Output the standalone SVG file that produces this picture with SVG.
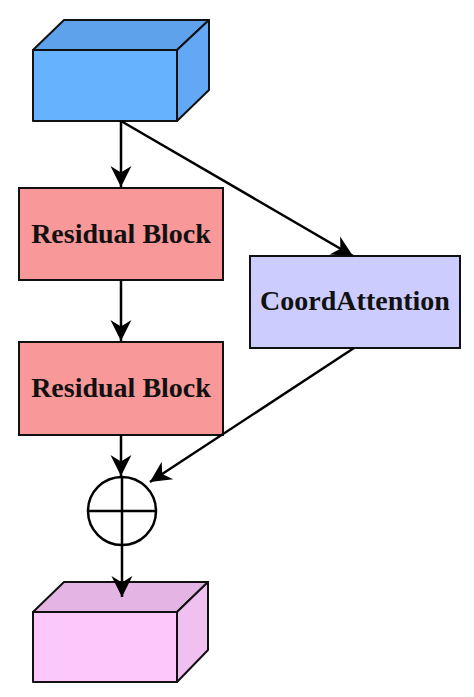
<svg xmlns="http://www.w3.org/2000/svg" width="474" height="697" viewBox="0 0 474 697">
<defs>
<marker id="ah" markerWidth="10" markerHeight="10" viewBox="0 0 10 10" refX="10" refY="5" orient="auto" markerUnits="userSpaceOnUse" style="overflow:visible">
<path d="M0,0 L10,5 L0,10 L3,5 Z" fill="#000" transform="scale(2.1) translate(-5.2,-2.6)"/>
</marker>
<style>
.edge{stroke:#000;stroke-width:2.5;fill:none}
.cube{stroke:#111;stroke-width:2;stroke-linejoin:round}
.box{stroke:#111;stroke-width:2}
.lbl{font-family:"Liberation Serif","Times New Roman",serif;font-weight:bold;font-size:28px;fill:#111;text-anchor:middle}
</style>
</defs>
<rect width="474" height="697" fill="#fff"/>
<g id="input-cube">
<polygon class="cube" points="33,50 64,20 209,20 177,50" fill="#5ea2ec"/>
<polygon class="cube" points="177,50 209,20 209,90 177,121" fill="#62a8f4"/>
<rect class="cube" x="33" y="50" width="144" height="71" fill="#66b2ff"/>
</g>
<g id="residual-block-1">
<rect class="box" x="19" y="188" width="204" height="92" fill="#f89898"/>
<text class="lbl" x="121" y="243">Residual Block</text>
</g>
<g id="residual-block-2">
<rect class="box" x="19" y="342" width="204" height="93" fill="#f89898"/>
<text class="lbl" x="121" y="397">Residual Block</text>
</g>
<g id="coord-attention">
<rect class="box" x="250" y="256" width="210" height="92" fill="#ccccff"/>
<text class="lbl" x="355" y="310">CoordAttention</text>
</g>
<g id="add">
<circle cx="122" cy="511" r="34" fill="#fff" stroke="#000" stroke-width="2.5"/>
<line x1="88" y1="511" x2="156" y2="511" stroke="#000" stroke-width="2.5"/>
<line x1="122" y1="477" x2="122" y2="545" stroke="#000" stroke-width="2.5"/>
</g>
<g id="output-cube">
<polygon class="cube" points="33,612 64,582 208,582 177,612" fill="#e4b4e4"/>
<polygon class="cube" points="177,612 208,582 208,650 177,682" fill="#f0c0f0"/>
<rect class="cube" x="33" y="612" width="144" height="70" fill="#fcc8fc"/>
</g>
<g id="connectors">
<line class="edge" x1="121" y1="121" x2="121" y2="187" marker-end="url(#ah)"/>
<line class="edge" x1="121" y1="121" x2="353" y2="256" marker-end="url(#ah)"/>
<line class="edge" x1="121" y1="280" x2="121" y2="341" marker-end="url(#ah)"/>
<line class="edge" x1="121" y1="435" x2="121" y2="476" marker-end="url(#ah)"/>
<line class="edge" x1="354" y1="348" x2="150" y2="482" marker-end="url(#ah)"/>
<line class="edge" x1="122" y1="545" x2="122" y2="597" marker-end="url(#ah)"/>
</g>
</svg>
